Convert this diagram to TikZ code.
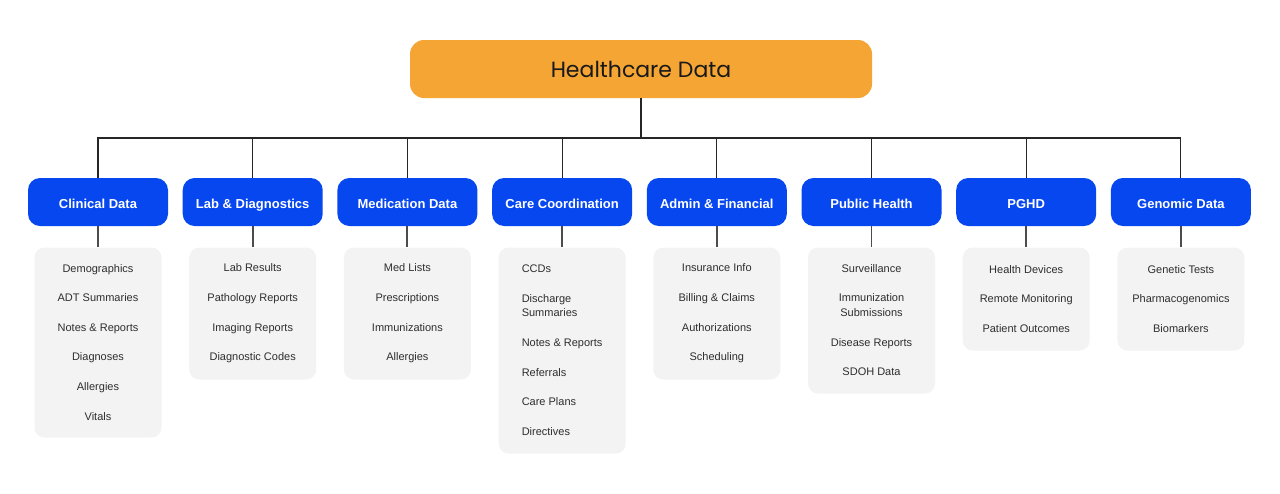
\documentclass[tikz,border=0pt]{standalone}
\usepackage{fontspec}
\setmainfont{Liberation Sans}
\newfontfamily\titlefont{Poppins}
\usepackage{tikz}
\usetikzlibrary{positioning}
\usepackage{xcolor}

\definecolor{hcorange}{HTML}{F4A533}
\definecolor{hcblue}{HTML}{0747F0}
\definecolor{hcgray}{HTML}{F3F3F3}
\definecolor{hctext}{HTML}{2E2E2E}

\newcommand{\itemgap}{\\[11.1pt]}

\tikzset{
	rootbox/.style={fill=hcorange, rounded corners=10.5pt, minimum width=346.5pt,
		minimum height=43.5pt, font=\titlefont\fontsize{16.5}{19}\selectfont, text=black!90},
	catbox/.style={fill=hcblue, rounded corners=9pt, minimum width=105pt,
		minimum height=36pt, inner sep=0pt, text height=9.5pt, text depth=0.5pt, text=white,
		font=\bfseries\fontsize{9.75}{12}\selectfont},
	listbox/.style={fill=hcgray, rounded corners=7.5pt, minimum width=95.25pt,
		align=center, text=hctext, font=\fontsize{8.25}{11.1}\selectfont,
		execute at begin node=\rule{0pt}{10.8pt}, execute at end node=\rule[-0.6pt]{0pt}{0.6pt}},
	bus/.style={black!85, line width=0.8pt},
	stem/.style={black!70, line width=1.4pt},
}

\begin{document}
\begin{tikzpicture}[x=0.75pt,y=-0.75pt]
		
		\useasboundingbox (0,0) rectangle (1280,493);
		
		% The root
		\node[rootbox] (root) at (641,69) {Healthcare Data};
		\coordinate (hub) at (641,138);
		
		% Category boxes
		\node[catbox] (clin)  at (98,202)    {Clinical Data};
		\node[catbox] (lab)   at (252.7,202) {Lab \& Diagnostics};
		\node[catbox] (med)   at (407.4,202) {Medication Data};
		\node[catbox] (care)  at (562.1,202) {Care Coordination};
		\node[catbox] (admin) at (716.8,202) {Admin \& Financial};
		\node[catbox] (pub)   at (871.5,202) {Public Health};
		\node[catbox] (pghd)  at (1026.2,202) {PGHD};
		\node[catbox] (gen)   at (1180.9,202) {Genomic Data};
		
		% Tree lines from the root
		\draw[bus] (root.south) -- (hub);
		\foreach \c in {clin,lab,med,care,admin,pub,pghd,gen}
			\draw[bus] (\c.north) |- (hub);
		
		% Lists under each category
		\node[listbox, below=15.75pt of clin, minimum height=142.5pt] (clinl)
			{Demographics\itemgap ADT Summaries\itemgap Notes \& Reports\itemgap
			 Diagnoses\itemgap Allergies\itemgap Vitals};
		\node[listbox, below=15.75pt of lab, minimum height=99pt] (labl)
			{Lab Results\itemgap Pathology Reports\itemgap Imaging Reports\itemgap
			 Diagnostic Codes};
		\node[listbox, below=15.75pt of med, minimum height=99pt] (medl)
			{Med Lists\itemgap Prescriptions\itemgap Immunizations\itemgap Allergies};
		\node[listbox, align=left, below=15.75pt of care, minimum height=154.5pt] (carel)
			{CCDs\itemgap Discharge\\Summaries\itemgap Notes \& Reports\itemgap
			 Referrals\itemgap Care Plans\itemgap Directives};
		\node[listbox, below=15.75pt of admin, minimum height=99pt] (adminl)
			{Insurance Info\itemgap Billing \& Claims\itemgap Authorizations\itemgap
			 Scheduling};
		\node[listbox, below=15.75pt of pub, minimum height=109.5pt] (publ)
			{Surveillance\itemgap Immunization\\Submissions\itemgap Disease Reports\itemgap
			 SDOH Data};
		\node[listbox, below=15.75pt of pghd, minimum height=77.25pt] (pghdl)
			{Health Devices\itemgap Remote Monitoring\itemgap Patient Outcomes};
		\node[listbox, below=15.75pt of gen, minimum height=77.25pt] (genl)
			{Genetic Tests\itemgap Pharmacogenomics\itemgap Biomarkers};
		
		% Stems from category to list
		\foreach \c in {clin,lab,med,care,admin,pub,pghd,gen}
			\draw[stem] (\c) -- (\c l);
		
	\end{tikzpicture}
\end{document}
